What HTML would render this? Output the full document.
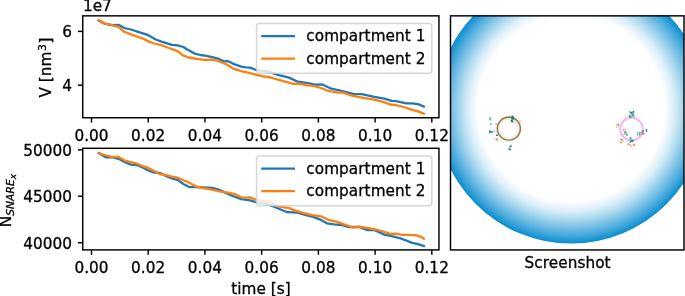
<!DOCTYPE html>
<html><head><meta charset="utf-8"><title>Figure</title>
<style>html,body{margin:0;padding:0;background:#fff;overflow:hidden}svg{display:block}text{stroke:#000;stroke-width:0.3px;letter-spacing:0.06px}</style></head>
<body>
<svg width="685" height="296" viewBox="0 0 685 296" font-family="'DejaVu Sans', 'Liberation Sans', sans-serif" font-size="15.28px" fill="#000">
<defs>
<radialGradient id="g" gradientUnits="userSpaceOnUse" cx="571.2" cy="108.6" r="135.0">
<stop offset="0" stop-color="rgb(255, 255, 255)"/>
<stop offset="0.69" stop-color="rgb(255, 255, 255)"/>
<stop offset="0.76" stop-color="rgb(220, 239, 248)"/>
<stop offset="0.82" stop-color="rgb(173, 217, 239)"/>
<stop offset="0.889" stop-color="rgb(114, 189, 228)"/>
<stop offset="0.95" stop-color="rgb(60, 164, 217)"/>
<stop offset="1.0" stop-color="rgb(8, 140, 207)"/>
</radialGradient>
<clipPath id="c3"><rect x="450.5" y="15.85" width="233.5" height="234.05"/></clipPath>
<filter id="bl" x="-50%" y="-50%" width="200%" height="200%"><feGaussianBlur stdDeviation="0.45"/></filter>
<filter id="bl2" x="-50%" y="-50%" width="200%" height="200%"><feGaussianBlur stdDeviation="0.8"/></filter>
</defs>
<rect width="685" height="296" fill="#fff" stroke="none"/>
<polyline points="98.6,20.6 104.6,23.6 111.9,25.1 118.5,24.8 124.3,28.0 130.9,29.5 138.2,31.8 148.4,35.2 155.7,39.5 161.5,41.7 171.8,44.9 177.6,45.4 183.4,47.0 187.3,49.5 194.6,53.6 200.4,55.0 206.3,55.8 212.1,57.2 218.0,58.5 223.8,61.3 228.2,61.2 234.0,64.1 241.3,66.6 245.7,67.4 250.1,67.7 255.9,69.9 261.8,70.9 267.6,71.4 273.4,73.3 278.8,75.1 289.0,77.6 297.7,81.7 306.5,82.9 315.3,84.6 321.8,84.3 331.3,88.7 341.5,90.8 353.2,93.8 362.0,94.1 374.2,96.8 384.4,98.7 391.7,100.9 396.1,101.2 406.3,103.4 412.2,103.4 418.0,104.1 423.8,106.6" fill="none" stroke="#1f77b4" stroke-width="2.3" stroke-linejoin="round" stroke-linecap="square"/>
<polyline points="98.8,20.1 104.6,23.5 111.9,25.2 118.5,26.8 124.3,31.8 130.9,34.4 141.1,37.8 148.4,41.4 154.2,43.5 161.5,45.2 168.8,48.0 177.6,51.2 182.9,55.3 188.8,57.5 194.6,58.5 200.4,59.3 206.3,60.0 212.1,59.6 218.0,60.9 226.7,64.5 234.0,68.9 241.3,71.2 250.1,73.1 255.9,74.6 261.8,76.1 270.5,77.5 278.8,79.8 293.4,83.9 299.2,83.6 306.5,85.4 312.3,85.6 321.1,88.0 326.9,90.5 337.2,92.7 343.0,92.7 351.8,95.6 360.5,97.3 374.2,99.7 383.0,101.9 390.3,104.5 396.1,105.1 403.4,107.0 412.2,109.9 418.0,111.4 423.8,113.6" fill="none" stroke="#ff7f0e" stroke-width="2.3" stroke-linejoin="round" stroke-linecap="square"/>
<line x1="91.50" y1="117.7" x2="91.50" y2="122.56" stroke="#000" stroke-width="1.45"/>
<text x="91.50" y="141.2" text-anchor="middle">0.00</text>
<line x1="148.22" y1="117.7" x2="148.22" y2="122.56" stroke="#000" stroke-width="1.45"/>
<text x="148.22" y="141.2" text-anchor="middle">0.02</text>
<line x1="204.94" y1="117.7" x2="204.94" y2="122.56" stroke="#000" stroke-width="1.45"/>
<text x="204.94" y="141.2" text-anchor="middle">0.04</text>
<line x1="261.66" y1="117.7" x2="261.66" y2="122.56" stroke="#000" stroke-width="1.45"/>
<text x="261.66" y="141.2" text-anchor="middle">0.06</text>
<line x1="318.38" y1="117.7" x2="318.38" y2="122.56" stroke="#000" stroke-width="1.45"/>
<text x="318.38" y="141.2" text-anchor="middle">0.08</text>
<line x1="375.10" y1="117.7" x2="375.10" y2="122.56" stroke="#000" stroke-width="1.45"/>
<text x="375.10" y="141.2" text-anchor="middle">0.10</text>
<line x1="431.82" y1="117.7" x2="431.82" y2="122.56" stroke="#000" stroke-width="1.45"/>
<text x="431.82" y="141.2" text-anchor="middle">0.12</text>
<line x1="82.75" y1="31.40" x2="77.89" y2="31.40" stroke="#000" stroke-width="1.45"/>
<text x="72.0" y="37.3" text-anchor="end">6</text>
<line x1="82.75" y1="85.15" x2="77.89" y2="85.15" stroke="#000" stroke-width="1.45"/>
<text x="72.0" y="91.1" text-anchor="end">4</text>
<rect x="82.75" y="15.85" width="356.2" height="101.9" fill="none" stroke="#000" stroke-width="1.45"/>
<rect x="256.5" y="23.5" width="175.3" height="49.8" rx="3" ry="3" fill="#fff" fill-opacity="0.8" stroke="#ccc" stroke-opacity="0.8" stroke-width="1.45"/>
<line x1="262.4" y1="36.1" x2="293.9" y2="36.1" stroke="#1f77b4" stroke-width="2.3" stroke-linecap="square"/>
<text x="306.3" y="41.3">compartment 1</text>
<line x1="262.4" y1="58.6" x2="293.9" y2="58.6" stroke="#ff7f0e" stroke-width="2.3" stroke-linecap="square"/>
<text x="306.3" y="63.8">compartment 2</text>
<polyline points="98.8,153.0 106.1,157.4 111.9,157.1 118.5,158.8 125.0,162.1 130.9,164.7 136.7,165.0 142.6,167.5 148.4,170.5 154.2,172.6 160.1,173.0 165.9,175.9 171.8,178.4 177.6,179.9 183.4,184.0 188.8,186.8 196.1,187.1 203.4,187.5 212.1,187.8 218.0,189.3 225.3,192.6 232.6,196.0 241.3,199.2 250.1,200.4 255.9,202.1 267.6,204.3 273.4,206.5 278.8,208.7 287.5,212.2 297.7,212.6 305.0,214.8 312.3,216.6 321.1,219.9 326.9,223.3 334.2,224.3 341.5,225.0 348.8,227.2 354.7,226.9 358.9,227.0 366.9,230.0 374.2,230.0 384.4,234.6 391.7,236.1 400.5,238.3 406.3,240.5 412.2,242.9 418.0,244.1 423.8,246.0" fill="none" stroke="#1f77b4" stroke-width="2.3" stroke-linejoin="round" stroke-linecap="square"/>
<polyline points="98.8,153.3 106.1,155.5 111.9,156.9 118.5,156.9 125.0,160.6 130.9,162.1 136.7,163.5 142.6,166.1 148.4,167.9 154.2,171.1 160.1,174.2 165.9,175.2 171.8,176.7 177.6,177.7 183.4,180.3 188.8,182.4 196.1,186.4 203.4,188.2 212.1,189.7 220.9,191.6 228.2,192.6 234.0,193.8 241.3,197.3 245.7,197.7 250.1,197.4 255.9,199.6 261.8,200.7 270.5,202.4 278.8,206.4 289.0,208.2 294.8,210.4 303.6,213.1 312.3,215.1 321.1,216.3 328.4,219.9 337.2,221.8 345.9,225.0 353.2,227.7 359.1,226.7 366.9,227.8 375.7,229.5 381.5,231.0 390.3,233.9 396.1,233.6 401.9,234.9 409.2,234.9 416.5,235.4 420.9,236.8 423.8,238.6" fill="none" stroke="#ff7f0e" stroke-width="2.3" stroke-linejoin="round" stroke-linecap="square"/>
<line x1="91.50" y1="249.9" x2="91.50" y2="254.76" stroke="#000" stroke-width="1.45"/>
<text x="91.50" y="273.4" text-anchor="middle">0.00</text>
<line x1="148.22" y1="249.9" x2="148.22" y2="254.76" stroke="#000" stroke-width="1.45"/>
<text x="148.22" y="273.4" text-anchor="middle">0.02</text>
<line x1="204.94" y1="249.9" x2="204.94" y2="254.76" stroke="#000" stroke-width="1.45"/>
<text x="204.94" y="273.4" text-anchor="middle">0.04</text>
<line x1="261.66" y1="249.9" x2="261.66" y2="254.76" stroke="#000" stroke-width="1.45"/>
<text x="261.66" y="273.4" text-anchor="middle">0.06</text>
<line x1="318.38" y1="249.9" x2="318.38" y2="254.76" stroke="#000" stroke-width="1.45"/>
<text x="318.38" y="273.4" text-anchor="middle">0.08</text>
<line x1="375.10" y1="249.9" x2="375.10" y2="254.76" stroke="#000" stroke-width="1.45"/>
<text x="375.10" y="273.4" text-anchor="middle">0.10</text>
<line x1="431.82" y1="249.9" x2="431.82" y2="254.76" stroke="#000" stroke-width="1.45"/>
<text x="431.82" y="273.4" text-anchor="middle">0.12</text>
<line x1="82.75" y1="149.90" x2="77.89" y2="149.90" stroke="#000" stroke-width="1.45"/>
<text x="72.0" y="155.8" text-anchor="end">50000</text>
<line x1="82.75" y1="196.20" x2="77.89" y2="196.20" stroke="#000" stroke-width="1.45"/>
<text x="72.0" y="202.1" text-anchor="end">45000</text>
<line x1="82.75" y1="242.70" x2="77.89" y2="242.70" stroke="#000" stroke-width="1.45"/>
<text x="72.0" y="248.6" text-anchor="end">40000</text>
<rect x="82.75" y="148.3" width="356.2" height="101.6" fill="none" stroke="#000" stroke-width="1.45"/>
<rect x="256.5" y="156.0" width="175.3" height="49.8" rx="3" ry="3" fill="#fff" fill-opacity="0.8" stroke="#ccc" stroke-opacity="0.8" stroke-width="1.45"/>
<line x1="262.4" y1="168.6" x2="293.9" y2="168.6" stroke="#1f77b4" stroke-width="2.3" stroke-linecap="square"/>
<text x="306.3" y="173.8">compartment 1</text>
<line x1="262.4" y1="191.1" x2="293.9" y2="191.1" stroke="#ff7f0e" stroke-width="2.3" stroke-linecap="square"/>
<text x="306.3" y="196.3">compartment 2</text>
<text x="82.9" y="10.7">1e7</text>
<text x="261" y="294.0" text-anchor="middle">time [s]</text>
<text transform="translate(51.2,97.6) rotate(-90)">V [nm<tspan font-size="10.7px" dy="-5.6" dx="0.6">3</tspan><tspan dy="5.6" dx="0.6">]</tspan></text>
<text transform="translate(10.6,227.3) rotate(-90)">N<tspan font-size="10.7px" font-style="italic" dy="3.7">SNARE</tspan><tspan font-size="9px" font-style="italic" dy="1.3">x</tspan></text>
<g clip-path="url(#c3)">
<circle cx="571.2" cy="108.6" r="135.0" fill="url(#g)"/>
<circle cx="508.85" cy="128.65" r="10.3" fill="none" stroke="#efe9d6" stroke-width="2.4" filter="url(#bl2)"/>
<circle cx="508.85" cy="128.65" r="11.5" fill="none" stroke="#84743f" stroke-opacity="0.92" stroke-width="1.55" filter="url(#bl)"/>
<circle cx="631.5" cy="129.05" r="11.3" fill="none" stroke="#f6aeee" stroke-width="2.0" stroke-opacity="0.92" filter="url(#bl)"/>
<g filter="url(#bl)">
<circle cx="489.9" cy="118.2" r="0.84" fill="#7cc4c4" fill-opacity="0.9"/>
<circle cx="490.5" cy="118.0" r="0.81" fill="#5fb3b5" fill-opacity="0.9"/>
<circle cx="489.7" cy="117.9" r="0.74" fill="#7cc4c4" fill-opacity="0.9"/>
<circle cx="489.5" cy="119.3" r="0.92" fill="#7cc4c4" fill-opacity="0.9"/>
<circle cx="490.7" cy="120.1" r="0.81" fill="#7cc4c4" fill-opacity="0.9"/>
<circle cx="490.2" cy="119.1" r="0.99" fill="#7cc4c4" fill-opacity="0.9"/>
<circle cx="491.2" cy="123.9" r="0.74" fill="#5fb3b5" fill-opacity="0.9"/>
<circle cx="490.9" cy="124.0" r="0.92" fill="#7cc4c4" fill-opacity="0.9"/>
<circle cx="495.6" cy="124.4" r="0.63" fill="#e3c09a" fill-opacity="0.9"/>
<circle cx="496.3" cy="123.5" r="0.58" fill="#e3c09a" fill-opacity="0.9"/>
<circle cx="496.2" cy="124.3" r="0.90" fill="#ecd3b8" fill-opacity="0.9"/>
<circle cx="496.3" cy="124.2" r="0.68" fill="#e3c09a" fill-opacity="0.9"/>
<circle cx="496.5" cy="123.8" r="0.81" fill="#d9a878" fill-opacity="0.9"/>
<circle cx="491.1" cy="131.5" r="0.75" fill="#2a8a92" fill-opacity="0.9"/>
<circle cx="490.0" cy="131.7" r="0.89" fill="#1d6f7a" fill-opacity="0.9"/>
<circle cx="492.4" cy="131.7" r="0.98" fill="#2a8a92" fill-opacity="0.9"/>
<circle cx="491.9" cy="132.2" r="0.94" fill="#3d9ea3" fill-opacity="0.9"/>
<circle cx="490.6" cy="131.5" r="0.77" fill="#7cc4c4" fill-opacity="0.9"/>
<circle cx="489.8" cy="130.7" r="0.67" fill="#2a8a92" fill-opacity="0.9"/>
<circle cx="489.8" cy="132.6" r="0.84" fill="#7cc4c4" fill-opacity="0.9"/>
<circle cx="490.5" cy="131.6" r="0.85" fill="#2a8a92" fill-opacity="0.9"/>
<circle cx="492.4" cy="131.5" r="0.82" fill="#7cc4c4" fill-opacity="0.9"/>
<circle cx="489.8" cy="132.8" r="0.61" fill="#1d6f7a" fill-opacity="0.9"/>
<circle cx="494.5" cy="131.6" r="0.77" fill="#7cc4c4" fill-opacity="0.9"/>
<circle cx="494.6" cy="131.3" r="0.95" fill="#a9dada" fill-opacity="0.9"/>
<circle cx="497.1" cy="135.3" r="0.74" fill="#1d6f7a" fill-opacity="0.9"/>
<circle cx="496.9" cy="135.4" r="0.65" fill="#2a8a92" fill-opacity="0.9"/>
<circle cx="496.5" cy="135.2" r="0.66" fill="#1d6f7a" fill-opacity="0.9"/>
<circle cx="497.4" cy="139.0" r="0.68" fill="#b9813f" fill-opacity="0.9"/>
<circle cx="496.6" cy="139.4" r="0.80" fill="#b9813f" fill-opacity="0.9"/>
<circle cx="497.1" cy="139.8" r="0.83" fill="#c08a4a" fill-opacity="0.9"/>
<circle cx="496.7" cy="140.6" r="0.98" fill="#e3c09a" fill-opacity="0.9"/>
<circle cx="496.6" cy="139.5" r="0.77" fill="#e3c09a" fill-opacity="0.9"/>
<circle cx="495.9" cy="138.8" r="0.64" fill="#b9813f" fill-opacity="0.9"/>
<circle cx="511.7" cy="117.9" r="0.59" fill="#1d6f7a" fill-opacity="0.9"/>
<circle cx="512.5" cy="119.3" r="0.80" fill="#16606c" fill-opacity="0.9"/>
<circle cx="513.1" cy="118.0" r="0.61" fill="#2a8a92" fill-opacity="0.9"/>
<circle cx="513.2" cy="117.9" r="0.74" fill="#16606c" fill-opacity="0.9"/>
<circle cx="513.0" cy="119.5" r="0.74" fill="#3d9ea3" fill-opacity="0.9"/>
<circle cx="512.1" cy="116.2" r="0.85" fill="#2a8a92" fill-opacity="0.9"/>
<circle cx="512.4" cy="118.3" r="0.76" fill="#1d6f7a" fill-opacity="0.9"/>
<circle cx="513.2" cy="117.7" r="0.61" fill="#16606c" fill-opacity="0.9"/>
<circle cx="512.9" cy="116.8" r="0.81" fill="#16606c" fill-opacity="0.9"/>
<circle cx="512.8" cy="116.6" r="0.70" fill="#1d6f7a" fill-opacity="0.9"/>
<circle cx="511.7" cy="120.1" r="0.79" fill="#2a8a92" fill-opacity="0.9"/>
<circle cx="512.1" cy="121.2" r="0.90" fill="#1d6f7a" fill-opacity="0.9"/>
<circle cx="512.3" cy="121.7" r="0.88" fill="#1d6f7a" fill-opacity="0.9"/>
<circle cx="511.5" cy="120.8" r="0.88" fill="#16606c" fill-opacity="0.9"/>
<circle cx="512.2" cy="120.8" r="0.64" fill="#2a8a92" fill-opacity="0.9"/>
<circle cx="514.5" cy="122.3" r="0.99" fill="#ecd3b8" fill-opacity="0.9"/>
<circle cx="514.3" cy="121.7" r="0.76" fill="#ecd3b8" fill-opacity="0.9"/>
<circle cx="520.0" cy="121.4" r="0.96" fill="#e3c09a" fill-opacity="0.7"/>
<circle cx="520.2" cy="121.4" r="0.91" fill="#e3c09a" fill-opacity="0.7"/>
<circle cx="510.9" cy="145.8" r="0.72" fill="#1d6f7a" fill-opacity="0.9"/>
<circle cx="510.2" cy="146.1" r="0.91" fill="#3d9ea3" fill-opacity="0.9"/>
<circle cx="509.5" cy="149.6" r="0.87" fill="#7cc4c4" fill-opacity="0.9"/>
<circle cx="510.1" cy="149.6" r="0.88" fill="#1d6f7a" fill-opacity="0.9"/>
<circle cx="511.2" cy="145.4" r="0.82" fill="#7cc4c4" fill-opacity="0.9"/>
<circle cx="510.8" cy="146.0" r="0.92" fill="#7cc4c4" fill-opacity="0.9"/>
<circle cx="510.5" cy="146.9" r="0.80" fill="#1d6f7a" fill-opacity="0.9"/>
<circle cx="509.3" cy="148.9" r="0.88" fill="#2a8a92" fill-opacity="0.9"/>
<circle cx="508.8" cy="140.1" r="0.75" fill="#7cc4c4" fill-opacity="0.9"/>
<circle cx="509.1" cy="139.6" r="0.66" fill="#a9dada" fill-opacity="0.9"/>
<circle cx="486.4" cy="202.1" r="0.47" fill="#8a8f70" fill-opacity="0.8"/>
<circle cx="486.6" cy="200.7" r="0.55" fill="#8a8f70" fill-opacity="0.8"/>
<circle cx="486.5" cy="202.2" r="0.50" fill="#7d8a78" fill-opacity="0.8"/>
<circle cx="632.1" cy="114.4" r="0.56" fill="#7cc4c4" fill-opacity="0.9"/>
<circle cx="633.5" cy="114.9" r="0.90" fill="#1d6f7a" fill-opacity="0.9"/>
<circle cx="630.0" cy="114.1" r="0.88" fill="#a9dada" fill-opacity="0.9"/>
<circle cx="629.4" cy="115.4" r="0.79" fill="#7cc4c4" fill-opacity="0.9"/>
<circle cx="633.5" cy="112.0" r="0.80" fill="#1d6f7a" fill-opacity="0.9"/>
<circle cx="630.1" cy="111.6" r="0.59" fill="#7cc4c4" fill-opacity="0.9"/>
<circle cx="632.3" cy="115.8" r="0.96" fill="#7cc4c4" fill-opacity="0.9"/>
<circle cx="630.9" cy="117.0" r="0.82" fill="#1d6f7a" fill-opacity="0.9"/>
<circle cx="633.0" cy="114.0" r="0.79" fill="#7cc4c4" fill-opacity="0.9"/>
<circle cx="631.9" cy="112.8" r="0.79" fill="#3d9ea3" fill-opacity="0.9"/>
<circle cx="634.4" cy="116.6" r="0.64" fill="#7cc4c4" fill-opacity="0.9"/>
<circle cx="629.8" cy="112.1" r="0.75" fill="#2a8a92" fill-opacity="0.9"/>
<circle cx="632.9" cy="113.9" r="0.65" fill="#3d9ea3" fill-opacity="0.9"/>
<circle cx="633.5" cy="116.6" r="0.62" fill="#3d9ea3" fill-opacity="0.9"/>
<circle cx="629.8" cy="116.5" r="0.99" fill="#1d6f7a" fill-opacity="0.9"/>
<circle cx="633.3" cy="111.9" r="0.95" fill="#1d6f7a" fill-opacity="0.9"/>
<circle cx="632.5" cy="115.4" r="0.62" fill="#3d9ea3" fill-opacity="0.9"/>
<circle cx="632.5" cy="113.9" r="0.74" fill="#2a8a92" fill-opacity="0.9"/>
<circle cx="630.8" cy="115.0" r="0.56" fill="#3d9ea3" fill-opacity="0.9"/>
<circle cx="631.1" cy="112.6" r="0.70" fill="#2a8a92" fill-opacity="0.9"/>
<circle cx="631.3" cy="112.7" r="0.99" fill="#1d6f7a" fill-opacity="0.9"/>
<circle cx="624.6" cy="117.6" r="0.67" fill="#e3c09a" fill-opacity="0.6"/>
<circle cx="624.5" cy="117.6" r="0.89" fill="#ecd3b8" fill-opacity="0.6"/>
<circle cx="618.2" cy="126.2" r="0.98" fill="#e3c09a" fill-opacity="0.9"/>
<circle cx="616.7" cy="127.0" r="0.81" fill="#d9a878" fill-opacity="0.9"/>
<circle cx="616.6" cy="124.4" r="0.86" fill="#e3c09a" fill-opacity="0.9"/>
<circle cx="618.3" cy="125.0" r="0.56" fill="#c08a4a" fill-opacity="0.9"/>
<circle cx="618.1" cy="124.5" r="0.94" fill="#c08a4a" fill-opacity="0.9"/>
<circle cx="617.0" cy="124.6" r="0.56" fill="#e3c09a" fill-opacity="0.9"/>
<circle cx="625.3" cy="129.3" r="0.61" fill="#b9813f" fill-opacity="0.9"/>
<circle cx="625.3" cy="131.4" r="0.67" fill="#b9813f" fill-opacity="0.9"/>
<circle cx="623.3" cy="129.4" r="0.69" fill="#b9813f" fill-opacity="0.9"/>
<circle cx="623.6" cy="130.0" r="0.63" fill="#d9a878" fill-opacity="0.9"/>
<circle cx="625.0" cy="131.5" r="0.57" fill="#c08a4a" fill-opacity="0.9"/>
<circle cx="624.8" cy="130.2" r="0.64" fill="#e3c09a" fill-opacity="0.9"/>
<circle cx="624.7" cy="133.1" r="0.85" fill="#7cc4c4" fill-opacity="0.9"/>
<circle cx="626.0" cy="133.4" r="0.95" fill="#a9dada" fill-opacity="0.9"/>
<circle cx="624.9" cy="132.3" r="0.65" fill="#1d6f7a" fill-opacity="0.9"/>
<circle cx="626.5" cy="134.0" r="0.84" fill="#7cc4c4" fill-opacity="0.9"/>
<circle cx="627.0" cy="134.9" r="0.93" fill="#2a8a92" fill-opacity="0.9"/>
<circle cx="624.2" cy="134.1" r="0.67" fill="#1d6f7a" fill-opacity="0.9"/>
<circle cx="624.2" cy="133.8" r="0.72" fill="#a9dada" fill-opacity="0.9"/>
<circle cx="626.0" cy="132.5" r="0.66" fill="#3d9ea3" fill-opacity="0.9"/>
<circle cx="620.1" cy="139.2" r="0.67" fill="#c08a4a" fill-opacity="0.9"/>
<circle cx="621.0" cy="142.6" r="0.99" fill="#d9a878" fill-opacity="0.9"/>
<circle cx="621.0" cy="142.6" r="0.69" fill="#d9a878" fill-opacity="0.9"/>
<circle cx="620.7" cy="139.9" r="0.59" fill="#d9a878" fill-opacity="0.9"/>
<circle cx="622.1" cy="139.3" r="0.78" fill="#c08a4a" fill-opacity="0.9"/>
<circle cx="620.3" cy="142.0" r="0.61" fill="#c08a4a" fill-opacity="0.9"/>
<circle cx="621.6" cy="139.7" r="0.83" fill="#c08a4a" fill-opacity="0.9"/>
<circle cx="622.4" cy="140.7" r="0.89" fill="#e3c09a" fill-opacity="0.9"/>
<circle cx="623.2" cy="141.6" r="0.77" fill="#d9a878" fill-opacity="0.9"/>
<circle cx="623.0" cy="141.2" r="0.57" fill="#e3c09a" fill-opacity="0.9"/>
<circle cx="632.5" cy="141.8" r="0.61" fill="#a9dada" fill-opacity="0.9"/>
<circle cx="632.5" cy="140.6" r="0.92" fill="#16606c" fill-opacity="0.9"/>
<circle cx="632.8" cy="140.7" r="0.95" fill="#3d9ea3" fill-opacity="0.9"/>
<circle cx="630.2" cy="137.9" r="0.84" fill="#1d6f7a" fill-opacity="0.9"/>
<circle cx="631.2" cy="140.0" r="0.57" fill="#16606c" fill-opacity="0.9"/>
<circle cx="632.1" cy="141.2" r="0.77" fill="#16606c" fill-opacity="0.9"/>
<circle cx="631.5" cy="138.1" r="0.97" fill="#a9dada" fill-opacity="0.9"/>
<circle cx="630.2" cy="140.4" r="0.89" fill="#7cc4c4" fill-opacity="0.9"/>
<circle cx="630.8" cy="138.1" r="0.67" fill="#3d9ea3" fill-opacity="0.9"/>
<circle cx="630.7" cy="141.0" r="0.76" fill="#3d9ea3" fill-opacity="0.9"/>
<circle cx="630.2" cy="142.3" r="0.68" fill="#16606c" fill-opacity="0.9"/>
<circle cx="632.1" cy="141.0" r="0.58" fill="#2a8a92" fill-opacity="0.9"/>
<circle cx="631.1" cy="141.0" r="0.86" fill="#2a8a92" fill-opacity="0.9"/>
<circle cx="627.8" cy="144.1" r="0.67" fill="#c08a4a" fill-opacity="0.9"/>
<circle cx="632.1" cy="145.6" r="0.68" fill="#d9a878" fill-opacity="0.9"/>
<circle cx="630.7" cy="145.1" r="0.60" fill="#b9813f" fill-opacity="0.9"/>
<circle cx="629.7" cy="144.2" r="0.76" fill="#d9a878" fill-opacity="0.9"/>
<circle cx="630.6" cy="146.0" r="0.99" fill="#e3c09a" fill-opacity="0.9"/>
<circle cx="634.1" cy="144.9" r="0.96" fill="#b9813f" fill-opacity="0.9"/>
<circle cx="628.2" cy="144.2" r="0.89" fill="#d9a878" fill-opacity="0.9"/>
<circle cx="633.8" cy="144.3" r="0.92" fill="#d9a878" fill-opacity="0.9"/>
<circle cx="639.9" cy="134.4" r="0.65" fill="#7cc4c4" fill-opacity="0.9"/>
<circle cx="637.5" cy="133.0" r="0.98" fill="#7cc4c4" fill-opacity="0.9"/>
<circle cx="637.5" cy="134.5" r="0.74" fill="#7cc4c4" fill-opacity="0.9"/>
<circle cx="637.1" cy="134.8" r="0.55" fill="#3d9ea3" fill-opacity="0.9"/>
<circle cx="639.7" cy="132.9" r="0.97" fill="#2a8a92" fill-opacity="0.9"/>
<circle cx="640.0" cy="133.4" r="0.72" fill="#7cc4c4" fill-opacity="0.9"/>
<circle cx="637.5" cy="134.9" r="0.58" fill="#7cc4c4" fill-opacity="0.9"/>
<circle cx="639.3" cy="134.8" r="0.68" fill="#2a8a92" fill-opacity="0.9"/>
<circle cx="646.3" cy="129.7" r="0.97" fill="#1d6f7a" fill-opacity="0.9"/>
<circle cx="646.8" cy="130.1" r="0.69" fill="#3d9ea3" fill-opacity="0.9"/>
<circle cx="646.1" cy="130.1" r="0.56" fill="#7cc4c4" fill-opacity="0.9"/>
<circle cx="646.6" cy="131.4" r="0.80" fill="#2a8a92" fill-opacity="0.9"/>
<circle cx="643.2" cy="130.8" r="0.75" fill="#1d6f7a" fill-opacity="0.9"/>
<circle cx="645.5" cy="129.7" r="0.57" fill="#a9dada" fill-opacity="0.9"/>
<circle cx="642.2" cy="131.9" r="0.70" fill="#2a8a92" fill-opacity="0.9"/>
<circle cx="642.4" cy="132.5" r="0.84" fill="#3d9ea3" fill-opacity="0.9"/>
<circle cx="643.3" cy="131.6" r="0.80" fill="#3d9ea3" fill-opacity="0.9"/>
<circle cx="642.2" cy="132.3" r="0.58" fill="#3d9ea3" fill-opacity="0.9"/>
<circle cx="643.1" cy="131.9" r="0.70" fill="#3d9ea3" fill-opacity="0.9"/>
<circle cx="643.3" cy="134.2" r="0.66" fill="#b9813f" fill-opacity="0.9"/>
<circle cx="643.0" cy="133.2" r="0.66" fill="#d9a878" fill-opacity="0.9"/>
<circle cx="644.4" cy="133.4" r="0.56" fill="#e3c09a" fill-opacity="0.9"/>
<circle cx="643.1" cy="134.6" r="0.64" fill="#d9a878" fill-opacity="0.9"/>
<circle cx="643.0" cy="133.1" r="0.67" fill="#d9a878" fill-opacity="0.9"/>
<circle cx="642.4" cy="134.1" r="0.83" fill="#b9813f" fill-opacity="0.9"/>
</g>
</g>
<rect x="450.5" y="15.85" width="233.5" height="234.1" fill="none" stroke="#000" stroke-width="1.45"/>
<text x="567.6" y="268.0" text-anchor="middle">Screenshot</text>
</svg>
</body></html>
